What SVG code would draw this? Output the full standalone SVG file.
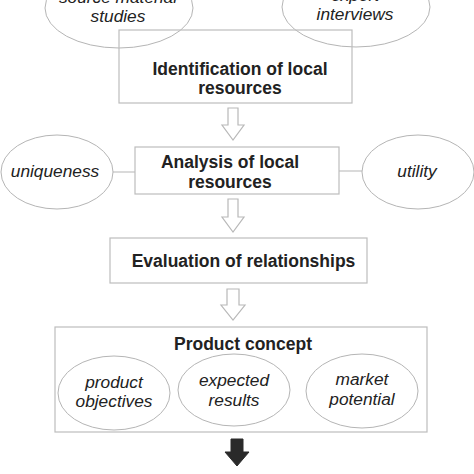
<svg xmlns="http://www.w3.org/2000/svg" width="474" height="474" viewBox="0 0 474 474">
<style>
.box{fill:none;stroke:#bdbdbd;stroke-width:1.2}
.ell{fill:none;stroke:#b5b5b5;stroke-width:1}
.link{stroke:#b5b5b5;stroke-width:1;fill:none}
.harrow{fill:#fff;stroke:#b8b8b8;stroke-width:1.2;stroke-linejoin:miter}
.farrow{fill:#2a2a2a;stroke:#2a2a2a;stroke-width:1}
.b{font-family:"Liberation Sans",Arial,sans-serif;font-weight:bold;font-size:17.5px;fill:#222;text-anchor:middle}
.i{font-family:"Liberation Sans",Arial,sans-serif;font-style:italic;font-size:17.3px;fill:#222;text-anchor:middle}
</style>
<rect width="474" height="474" fill="#fff"/>
<g id="connectors">
<line class="link" x1="113" y1="172" x2="135" y2="172"/>
<line class="link" x1="339" y1="171" x2="362" y2="171"/>
<polygon class="harrow" points="228,108 238,108 238,125 244,125 233,140 222,125 228,125"/>
<polygon class="harrow" points="228,199 238,199 238,217 244,217 233,232 222,217 228,217"/>
<polygon class="harrow" points="227,289 239,289 239,305 245,305 233,320 221,305 227,305"/>
<polygon class="farrow" points="231,439 243,439 243,452 249,452 237,466 225,452 231,452"/>
</g>
<g id="n-source">
<ellipse class="ell" cx="119" cy="8" rx="74" ry="40"/>
<text class="i" x="118" y="3">source material</text>
<text class="i" x="118" y="22">studies</text>
</g>
<g id="n-expert">
<ellipse class="ell" cx="356" cy="7" rx="74" ry="40"/>
<text class="i" x="355" y="1">expert</text>
<text class="i" x="355" y="20">interviews</text>
</g>
<g id="n-identification">
<rect class="box" x="119" y="30" width="233" height="73"/>
<text class="b" x="240" y="75">Identification of local</text>
<text class="b" x="240" y="94">resources</text>
</g>
<g id="n-uniqueness">
<ellipse class="ell" cx="57" cy="172" rx="56" ry="37"/>
<text class="i" x="55" y="177">uniqueness</text>
</g>
<g id="n-analysis">
<rect class="box" x="135" y="147" width="204" height="47"/>
<text class="b" x="230" y="168">Analysis of local</text>
<text class="b" x="230" y="188">resources</text>
</g>
<g id="n-utility">
<ellipse class="ell" cx="418" cy="172" rx="56" ry="37"/>
<text class="i" x="417" y="177">utility</text>
</g>
<g id="n-evaluation">
<rect class="box" x="110" y="238" width="257" height="45"/>
<text class="b" x="243.5" y="267">Evaluation of relationships</text>
</g>
<g id="n-product">
<rect class="box" x="55" y="327" width="372" height="105"/>
<text class="b" x="243" y="350">Product concept</text>
<ellipse class="ell" cx="114" cy="393" rx="56" ry="37"/>
<text class="i" x="114" y="388">product</text>
<text class="i" x="114" y="407">objectives</text>
<ellipse class="ell" cx="234" cy="390" rx="56" ry="36"/>
<text class="i" x="234" y="386">expected</text>
<text class="i" x="234" y="406">results</text>
<ellipse class="ell" cx="362" cy="391" rx="56" ry="37"/>
<text class="i" x="362" y="385">market</text>
<text class="i" x="362" y="405">potential</text>
</g>
</svg>
